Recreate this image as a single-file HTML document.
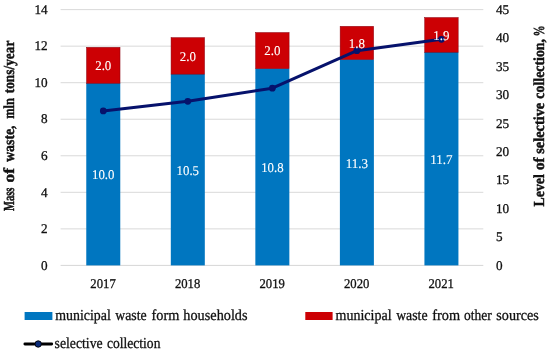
<!DOCTYPE html>
<html><head><meta charset="utf-8"><title>Chart</title>
<style>
html,body{margin:0;padding:0;background:#fff;overflow:hidden;}
svg{display:block;}
text{font-family:"Liberation Serif",serif;fill:#111;stroke:#111;stroke-width:0.3px;text-rendering:geometricPrecision;}
.b{font-weight:bold;stroke-width:0.45px;}
.w{fill:#fff;stroke:#fff;stroke-width:0.1px;}
</style></head><body>
<svg width="550" height="353" viewBox="0 0 550 353">
<rect width="550" height="353" fill="#fff"/>
<line x1="60.6" x2="483.3" y1="265.40" y2="265.40" stroke="#d6d6d6" stroke-width="1"/>
<line x1="60.6" x2="483.3" y1="228.86" y2="228.86" stroke="#d9d9d9" stroke-width="1"/>
<line x1="60.6" x2="483.3" y1="192.32" y2="192.32" stroke="#d9d9d9" stroke-width="1"/>
<line x1="60.6" x2="483.3" y1="155.78" y2="155.78" stroke="#d9d9d9" stroke-width="1"/>
<line x1="60.6" x2="483.3" y1="119.24" y2="119.24" stroke="#d9d9d9" stroke-width="1"/>
<line x1="60.6" x2="483.3" y1="82.70" y2="82.70" stroke="#d9d9d9" stroke-width="1"/>
<line x1="60.6" x2="483.3" y1="46.16" y2="46.16" stroke="#d9d9d9" stroke-width="1"/>
<line x1="60.6" x2="483.3" y1="9.62" y2="9.62" stroke="#d9d9d9" stroke-width="1"/>
<rect x="86.27" y="83.05" width="34.0" height="182.35" fill="#0076C0"/>
<rect x="86.52" y="47.31" width="33.5" height="35.99" fill="#CC0004" stroke="#8a0010" stroke-width="0.5"/>
<rect x="170.81" y="73.91" width="34.0" height="191.49" fill="#0076C0"/>
<rect x="171.06" y="37.62" width="33.5" height="36.54" fill="#CC0004" stroke="#8a0010" stroke-width="0.5"/>
<rect x="255.35" y="68.43" width="34.0" height="196.97" fill="#0076C0"/>
<rect x="255.60" y="32.51" width="33.5" height="36.17" fill="#CC0004" stroke="#8a0010" stroke-width="0.5"/>
<rect x="339.89" y="59.30" width="34.0" height="206.10" fill="#0076C0"/>
<rect x="340.14" y="26.30" width="33.5" height="33.25" fill="#CC0004" stroke="#8a0010" stroke-width="0.5"/>
<rect x="424.43" y="51.99" width="34.0" height="213.41" fill="#0076C0"/>
<rect x="424.68" y="17.53" width="33.5" height="34.71" fill="#CC0004" stroke="#8a0010" stroke-width="0.5"/>
<polyline fill="none" stroke="#06126C" stroke-width="3.0" stroke-linejoin="round" stroke-linecap="round" points="103.27,110.95 187.81,101.28 272.35,88.21 356.89,50.69 441.43,39.33"/>
<circle cx="103.27" cy="110.95" r="3.35" fill="#06126C"/>
<circle cx="187.81" cy="101.28" r="3.35" fill="#06126C"/>
<circle cx="272.35" cy="88.21" r="3.35" fill="#06126C"/>
<circle cx="356.89" cy="50.69" r="3.35" fill="#06126C"/>
<circle cx="441.43" cy="39.33" r="3.35" fill="#06126C"/>
<text class="w" x="103.27" y="179.45" font-size="13.4" text-anchor="middle" textLength="22.41" lengthAdjust="spacingAndGlyphs">10.0</text>
<text class="w" x="103.27" y="70.10" font-size="13.4" text-anchor="middle" textLength="16.17" lengthAdjust="spacingAndGlyphs">2.0</text>
<text class="w" x="187.81" y="174.88" font-size="13.4" text-anchor="middle" textLength="22.41" lengthAdjust="spacingAndGlyphs">10.5</text>
<text class="w" x="187.81" y="60.69" font-size="13.4" text-anchor="middle" textLength="16.17" lengthAdjust="spacingAndGlyphs">2.0</text>
<text class="w" x="272.35" y="172.14" font-size="13.4" text-anchor="middle" textLength="22.41" lengthAdjust="spacingAndGlyphs">10.8</text>
<text class="w" x="272.35" y="55.40" font-size="13.4" text-anchor="middle" textLength="16.17" lengthAdjust="spacingAndGlyphs">2.0</text>
<text class="w" x="356.89" y="167.57" font-size="13.4" text-anchor="middle" textLength="22.41" lengthAdjust="spacingAndGlyphs">11.3</text>
<text class="w" x="356.89" y="47.72" font-size="13.4" text-anchor="middle" textLength="16.17" lengthAdjust="spacingAndGlyphs">1.8</text>
<text class="w" x="441.43" y="163.92" font-size="13.4" text-anchor="middle" textLength="22.41" lengthAdjust="spacingAndGlyphs">11.7</text>
<text class="w" x="441.43" y="39.68" font-size="13.4" text-anchor="middle" textLength="16.17" lengthAdjust="spacingAndGlyphs">1.9</text>
<text x="47.7" y="269.65" font-size="13.4" text-anchor="end" textLength="6.60" lengthAdjust="spacingAndGlyphs">0</text>
<text x="47.7" y="233.11" font-size="13.4" text-anchor="end" textLength="6.60" lengthAdjust="spacingAndGlyphs">2</text>
<text x="47.7" y="196.57" font-size="13.4" text-anchor="end" textLength="6.60" lengthAdjust="spacingAndGlyphs">4</text>
<text x="47.7" y="160.03" font-size="13.4" text-anchor="end" textLength="6.60" lengthAdjust="spacingAndGlyphs">6</text>
<text x="47.7" y="123.49" font-size="13.4" text-anchor="end" textLength="6.60" lengthAdjust="spacingAndGlyphs">8</text>
<text x="47.7" y="86.95" font-size="13.4" text-anchor="end" textLength="13.20" lengthAdjust="spacingAndGlyphs">10</text>
<text x="47.7" y="50.41" font-size="13.4" text-anchor="end" textLength="13.20" lengthAdjust="spacingAndGlyphs">12</text>
<text x="47.7" y="13.87" font-size="13.4" text-anchor="end" textLength="13.20" lengthAdjust="spacingAndGlyphs">14</text>
<text x="496" y="269.65" font-size="13.4" textLength="6.60" lengthAdjust="spacingAndGlyphs">0</text>
<text x="496" y="241.23" font-size="13.4" textLength="6.60" lengthAdjust="spacingAndGlyphs">5</text>
<text x="496" y="212.81" font-size="13.4" textLength="13.20" lengthAdjust="spacingAndGlyphs">10</text>
<text x="496" y="184.39" font-size="13.4" textLength="13.20" lengthAdjust="spacingAndGlyphs">15</text>
<text x="496" y="155.97" font-size="13.4" textLength="13.20" lengthAdjust="spacingAndGlyphs">20</text>
<text x="496" y="127.55" font-size="13.4" textLength="13.20" lengthAdjust="spacingAndGlyphs">25</text>
<text x="496" y="99.13" font-size="13.4" textLength="13.20" lengthAdjust="spacingAndGlyphs">30</text>
<text x="496" y="70.71" font-size="13.4" textLength="13.20" lengthAdjust="spacingAndGlyphs">35</text>
<text x="496" y="42.29" font-size="13.4" textLength="13.20" lengthAdjust="spacingAndGlyphs">40</text>
<text x="496" y="13.87" font-size="13.4" textLength="13.20" lengthAdjust="spacingAndGlyphs">45</text>
<text x="103.07" y="288.3" font-size="13.4" text-anchor="middle" textLength="25.4" lengthAdjust="spacingAndGlyphs">2017</text>
<text x="187.61" y="288.3" font-size="13.4" text-anchor="middle" textLength="25.4" lengthAdjust="spacingAndGlyphs">2018</text>
<text x="272.15" y="288.3" font-size="13.4" text-anchor="middle" textLength="25.4" lengthAdjust="spacingAndGlyphs">2019</text>
<text x="356.69" y="288.3" font-size="13.4" text-anchor="middle" textLength="25.4" lengthAdjust="spacingAndGlyphs">2020</text>
<text x="441.23" y="288.3" font-size="13.4" text-anchor="middle" textLength="25.4" lengthAdjust="spacingAndGlyphs">2021</text>
<g transform="rotate(-90)">
<text class="b" x="-211.05" y="14.0" font-size="15.3" textLength="23.50" lengthAdjust="spacingAndGlyphs">Mass</text>
<text class="b" x="-182.45" y="14.0" font-size="15.3" textLength="14.30" lengthAdjust="spacingAndGlyphs">of</text>
<text class="b" x="-161.85" y="14.0" font-size="15.3" textLength="36.40" lengthAdjust="spacingAndGlyphs">waste,</text>
<text class="b" x="-118.75" y="14.0" font-size="15.3" textLength="20.70" lengthAdjust="spacingAndGlyphs">mln</text>
<text class="b" x="-93.25" y="14.0" font-size="15.3" textLength="52.60" lengthAdjust="spacingAndGlyphs">tons/year</text>
<text class="b" x="-206.45" y="543.9" font-size="15.3" textLength="32.20" lengthAdjust="spacingAndGlyphs">Level</text>
<text class="b" x="-169.95" y="543.9" font-size="15.3" textLength="12.60" lengthAdjust="spacingAndGlyphs">of</text>
<text class="b" x="-153.85" y="543.9" font-size="15.3" textLength="51.10" lengthAdjust="spacingAndGlyphs">selective</text>
<text class="b" x="-98.65" y="543.9" font-size="15.3" textLength="59.70" lengthAdjust="spacingAndGlyphs">collection,</text>
<text class="b" x="-36.55" y="543.9" font-size="15.3" textLength="11.10" lengthAdjust="spacingAndGlyphs">%</text>
</g>
<rect x="24.6" y="312" width="27.8" height="8" fill="#0076C0"/>
<text x="55.25" y="320" font-size="15.2" textLength="55.50" lengthAdjust="spacingAndGlyphs">municipal</text>
<text x="115.25" y="320" font-size="15.2" textLength="31.40" lengthAdjust="spacingAndGlyphs">waste</text>
<text x="151.55" y="320" font-size="15.2" textLength="27.80" lengthAdjust="spacingAndGlyphs">form</text>
<text x="183.35" y="320" font-size="15.2" textLength="64.20" lengthAdjust="spacingAndGlyphs">households</text>
<rect x="305.3" y="312" width="27.3" height="8" fill="#CC0004"/>
<text x="335.55" y="320" font-size="15.2" textLength="56.00" lengthAdjust="spacingAndGlyphs">municipal</text>
<text x="396.15" y="320" font-size="15.2" textLength="31.40" lengthAdjust="spacingAndGlyphs">waste</text>
<text x="432.35" y="320" font-size="15.2" textLength="27.80" lengthAdjust="spacingAndGlyphs">from</text>
<text x="464.05" y="320" font-size="15.2" textLength="27.80" lengthAdjust="spacingAndGlyphs">other</text>
<text x="496.35" y="320" font-size="15.2" textLength="42.40" lengthAdjust="spacingAndGlyphs">sources</text>
<line x1="24.9" x2="51.7" y1="344" y2="344" stroke="#000" stroke-width="2.9" stroke-linecap="round"/>
<circle cx="38.2" cy="344" r="3.2" fill="#0a2a78" stroke="#000" stroke-width="0.9"/>
<text x="54.55" y="347.7" font-size="15.2" textLength="48.10" lengthAdjust="spacingAndGlyphs">selective</text>
<text x="106.95" y="347.7" font-size="15.2" textLength="53.50" lengthAdjust="spacingAndGlyphs">collection</text>
</svg></body></html>
